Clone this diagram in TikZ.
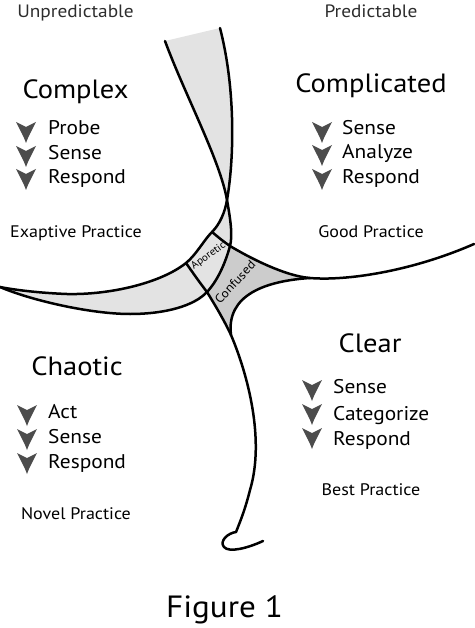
\documentclass[tikz,border=0pt]{standalone}
\usepackage{fontspec}
\setmainfont[FakeStretch=1.08]{PT Sans}
\definecolor{ribbon}{RGB}{227,227,227}
\definecolor{confgray}{RGB}{204,204,204}
\definecolor{trifill}{RGB}{76,76,76}
\definecolor{toptext}{RGB}{45,45,45}
\tikzset{
  trimark/.pic={\fill[trifill] (-10,-10) -- (0,-5) -- (10,-10) .. controls (6,-2) and (2,5) .. (0,11) .. controls (-2,5) and (-6,-2) .. cycle;},
  domname/.style={font=\fontsize{26.4}{30}\selectfont, anchor=base, inner sep=0pt},
  listitem/.style={font=\fontsize{19.8}{23}\selectfont, anchor=base west, inner sep=0pt},
  practext/.style={font=\fontsize{16.7}{20}\selectfont, anchor=base, inner sep=0pt},
  toplab/.style={font=\fontsize{17.9}{21}\selectfont, anchor=base, inner sep=0pt, text=toptext},
  regionlab/.style={inner sep=0pt},
  borderline/.style={line width=2.5pt, line join=round, line cap=round}
}
\begin{document}
\begin{tikzpicture}[x=1pt,y=-1pt]
\useasboundingbox (0,0) rectangle (474,628);
% key points
\coordinate (A1) at (165,41);
\coordinate (A2) at (220,28);
\coordinate (X) at (227,200);
\coordinate (Pa) at (230,246);
\coordinate (Pb) at (207,292);
\coordinate (Pc) at (130,314);
\coordinate (Tip) at (0,287);
\coordinate (Pe) at (212,232);
\coordinate (Pd) at (186,263);
\coordinate (Pf) at (67,294);
\coordinate (Pg) at (310,278);
\coordinate (Pend) at (474,244);
\coordinate (Ph) at (231,335);
\coordinate (Pi) at (250,490);
\coordinate (Pj) at (236,532);
\coordinate (Pk) at (224,547);
\coordinate (Pl) at (263,541);
% fills
\fill[ribbon] (A1) .. controls (185,95) and (220,160) .. (X)
  .. controls (234,160) and (236,90) .. (A2) -- cycle;
\fill[ribbon] (X) .. controls (230,217) and (233,235) .. (Pa)
  .. controls (227,257) and (220,278) .. (Pb)
  .. controls (194,306) and (165,314) .. (Pc)
  .. controls (90,314) and (30,300) .. (Tip)
  .. controls (15,290) and (40,293) .. (Pf)
  .. controls (110,295) and (161,283) .. (Pd)
  .. controls (196,255) and (204,240) .. (Pe)
  .. controls (220,224) and (225,212) .. (X) -- cycle;
\fill[confgray] (Pa) .. controls (250,258) and (285,276) .. (Pg)
  .. controls (265,281) and (226,295) .. (Ph)
  .. controls (224,320) and (215,305) .. (Pb)
  .. controls (220,278) and (227,257) .. (Pa) -- cycle;
% strokes
\draw[borderline] (A1) .. controls (185,95) and (220,160) .. (X)
  .. controls (230,217) and (233,235) .. (Pa)
  .. controls (227,257) and (220,278) .. (Pb)
  .. controls (194,306) and (165,314) .. (Pc)
  .. controls (90,314) and (30,300) .. (Tip);
\draw[borderline] (A2) .. controls (236,90) and (234,160) .. (X)
  .. controls (225,212) and (220,224) .. (Pe)
  .. controls (204,240) and (196,255) .. (Pd)
  .. controls (161,283) and (110,295) .. (Pf)
  .. controls (40,293) and (15,290) .. (Tip);
\draw[borderline] (Pe) .. controls (218,237) and (224,242) .. (Pa)
  .. controls (250,258) and (285,276) .. (Pg)
  .. controls (345,281) and (410,272) .. (Pend);
\draw[borderline] (Pg) .. controls (265,281) and (226,295) .. (Ph);
\draw[borderline] (Pd) .. controls (193,273) and (200,283) .. (Pb)
  .. controls (215,305) and (224,320) .. (Ph)
  .. controls (248,375) and (265,440) .. (Pi)
  .. controls (245,510) and (240,522) .. (Pj)
  .. controls (228,533) and (219,541) .. (Pk)
  .. controls (229,553) and (248,548) .. (Pl);
% small region labels
\node[regionlab, font=\fontsize{10.3}{12}\selectfont, rotate=36] (apor) at (208.5,256) {Aporetic};
\node[regionlab, font=\fontsize{12.4}{14}\selectfont, rotate=47] (conf) at (235,282) {Confused};
% top labels
\node[toplab] (unpred) at (75.5,18) {Unpredictable};
\node[toplab] (pred) at (371,18) {Predictable};
% domains
\node[domname] (complex) at (75.5,99) {Complex};
\node[domname] (complicated) at (371,93) {Complicated};
\node[domname] (chaotic) at (77,375) {Chaotic};
\node[domname] (clear) at (370,352) {Clear};
% Complex list
\pic at (26,132) {trimark}; \pic at (26,156) {trimark}; \pic at (26,179) {trimark};
\node[listitem] (cx1) at (48,135) {Probe};
\node[listitem] (cx2) at (48,160) {Sense};
\node[listitem] (cx3) at (48,184) {Respond};
% Complicated list
\pic at (322,132) {trimark}; \pic at (322,155) {trimark}; \pic at (322,179) {trimark};
\node[listitem] (cd1) at (342,135) {Sense};
\node[listitem] (cd2) at (342,159) {Analyze};
\node[listitem] (cd3) at (342,184) {Respond};
% Chaotic list
\pic at (27,415) {trimark}; \pic at (27,439) {trimark}; \pic at (27,463) {trimark};
\node[listitem] (ch1) at (48,418) {Act};
\node[listitem] (ch2) at (48,443) {Sense};
\node[listitem] (ch3) at (48,468) {Respond};
% Clear list
\pic at (312,390) {trimark}; \pic at (312,414) {trimark}; \pic at (312,438) {trimark};
\node[listitem] (cl1) at (333,393) {Sense};
\node[listitem] (cl2) at (333,420) {Categorize};
\node[listitem] (cl3) at (333,445) {Respond};
% practices
\node[practext] (exapt) at (76,237) {Exaptive Practice};
\node[practext] (good) at (371,237) {Good Practice};
\node[practext] (novel) at (76,519) {Novel Practice};
\node[practext] (best) at (371,495) {Best Practice};
% caption
\node[font=\fontsize{30.7}{36}\selectfont, anchor=base, inner sep=0pt] (fig) at (224.5,617) {Figure 1};
\end{tikzpicture}
\end{document}
